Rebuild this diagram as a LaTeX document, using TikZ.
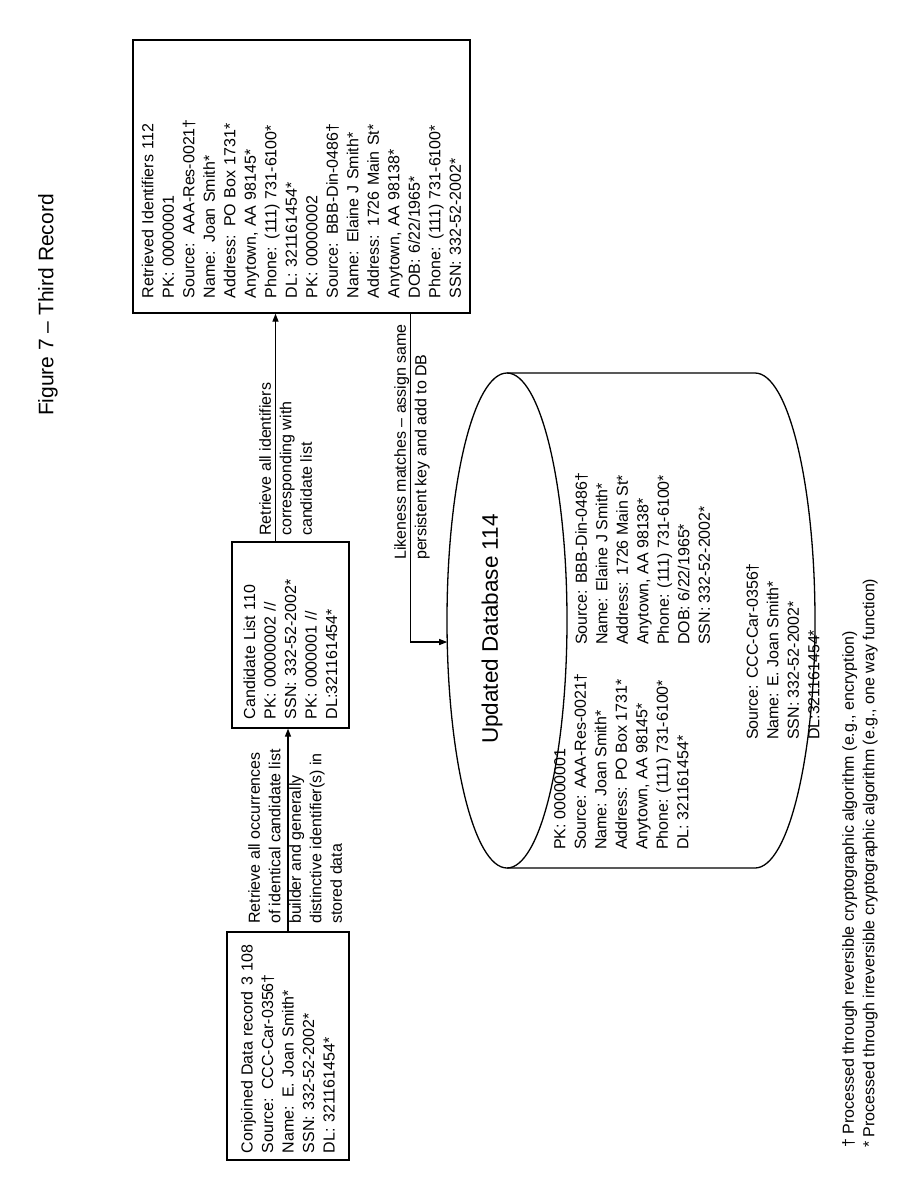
\documentclass[tikz,border=0pt]{standalone}
\usepackage{fontspec}
\setmainfont{Liberation Sans}
\usetikzlibrary{arrows.meta}

\begin{document}
\begin{tikzpicture}[
    x=1pt, y=-1pt,
    rec/.style={draw, line width=1.3pt, rotate=90, align=left, inner ysep=0pt, font=\fontsize{16}{20.5}\selectfont},
    lbl/.style={rotate=90, anchor=north west, align=left, inner sep=0pt, font=\fontsize{16}{20.5}\selectfont},
    arr/.style={-{Triangle[length=8pt, width=6pt]}, line width=1.2pt},
    db/.style={line width=1.3pt},
  ]
    \useasboundingbox (0,0) rectangle (907,1200);

    % Title
    \node[rotate=90, font=\fontsize{21}{25}\selectfont] (title) at (48,305) {Figure 7 – Third Record};

    % Conjoined record
    \node[rec, text width=214pt, inner xsep=7pt, minimum height=122pt] (conj) at (288,1046)
      {Conjoined Data record 3 108\\Source: CCC-Car-0356†\\Name: E. Joan Smith*\\SSN: 332-52-2002*\\DL: 321161454*};

    % Candidate list
    \node[rec, text width=168pt, inner xsep=9pt, minimum height=117pt] (cand) at (290.5,635)
      {Candidate List 110\\PK: 00000002 //\\SSN: 332-52-2002*\\PK: 0000001 //\\DL:321161454*};
    \draw[arr] (conj.east) -- (conj.east |- cand.west);
    \node[lbl] (occ) at (248,924) {Retrieve all occurrences\\of identical candidate list\\builder and generally\\distinctive identifier(s) in\\stored data};

    % Retrieved identifiers
    \node[rec, text width=243pt, inner xsep=15pt, minimum height=337pt] (ret) at (301.5,176.5)
      {Retrieved Identifiers 112\\PK: 00000001\\Source: AAA-Res-0021†\\Name: Joan Smith*\\Address: PO Box 1731*\\Anytown, AA 98145*\\Phone: (111) 731-6100*\\DL: 321161454*\\PK: 00000002\\Source: BBB-Din-0486†\\Name: Elaine J Smith*\\Address: 1726 Main St*\\Anytown, AA 98138*\\DOB: 6/22/1965*\\Phone: (111) 731-6100*\\SSN: 332-52-2002*};
    \coordinate (up) at ([xshift=-15pt]cand.east);
    \draw[arr] (up) -- (up |- ret.west);
    \node[lbl] (ids) at (259,536) {Retrieve all identifiers\\corresponding with\\candidate list};

    % Updated database
    \draw[db] (507,620.5) ellipse [x radius=60pt, y radius=247.5pt];
    \draw[db] (507,373) -- (755,373) arc[start angle=90, end angle=-90, x radius=60pt, y radius=247.5pt] -- (507,868);
    \node[rotate=90, font=\fontsize{22.5}{27}\selectfont] (dbname) at (492,629) {Updated Database 114};
    \node[lbl] (rec1) at (554,850) {PK: 00000001\\Source: AAA-Res-0021†\\Name: Joan Smith*\\Address: PO Box 1731*\\Anytown, AA 98145*\\Phone: (111) 731-6100*\\DL: 321161454*};
    \node[lbl] (rec2) at (575,645) {Source: BBB-Din-0486†\\Name: Elaine J Smith*\\Address: 1726 Main St*\\Anytown, AA 98138*\\Phone: (111) 731-6100*\\DOB: 6/22/1965*\\SSN: 332-52-2002*};
    \node[lbl] (rec3) at (746,740) {Source: CCC-Car-0356†\\Name: E. Joan Smith*\\SSN: 332-52-2002*\\DL:321161454*};

    % Likeness match into DB
    \coordinate (lk) at ([xshift=-60pt]ret.south west);
    \coordinate (dbin) at (447.2,642);
    \draw[arr] (lk) |- (dbin);
    \node[lbl] (like) at (394,560) {Likeness matches – assign same\\persistent key and add to DB};

    % Footnotes
    \node[lbl] (notes) at (842,1148) {† Processed through reversible cryptographic algorithm (e.g., encryption)\\* Processed through irreversible cryptographic algorithm (e.g., one way function)};
\end{tikzpicture}
\end{document}
